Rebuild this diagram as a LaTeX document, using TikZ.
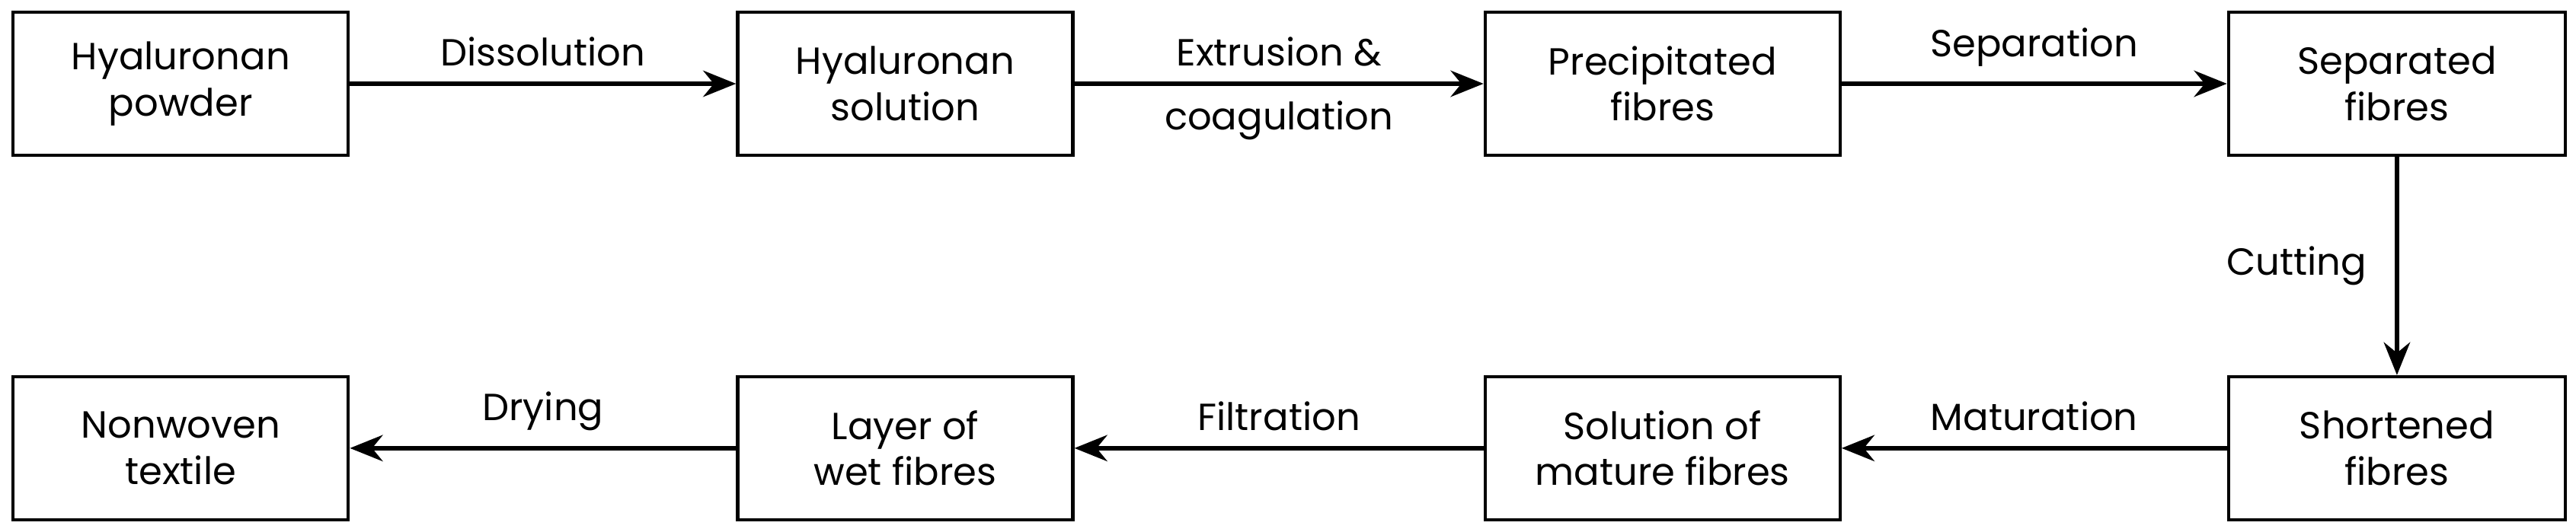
\documentclass[tikz,border=0pt]{standalone}
\usepackage{fontspec}
\setmainfont{Poppins}
\usetikzlibrary{arrows.meta}
\begin{document}
\begin{tikzpicture}[x=1pt,y=-1pt,
 box/.style={draw,line width=2pt,minimum width=204pt,minimum height=87pt,align=center,font=\fontsize{23}{28}\selectfont,inner sep=0pt},
 arr/.style={line width=2.5pt,-{Stealth[length=20pt,width=16pt]}},
 lab/.style={font=\fontsize{23}{28}\selectfont}]
\useasboundingbox (0,0) rectangle (1568,324);
\node[box] (a) at (110,51) {Hyaluronan\\powder};
\node[box] (b) at (551,51) {Hyaluronan\\solution};
\node[box,minimum width=216pt] (c) at (1012,51) {Precipitated\\fibres};
\node[box,minimum width=205pt] (d) at (1459,51) {Separated\\fibres};
\node[box,minimum width=205pt] (e) at (1459,273) {Shortened\\fibres};
\node[box,minimum width=216pt] (f) at (1012,273) {Solution of\\mature fibres};
\node[box] (g) at (551,273) {Layer of\\wet fibres};
\node[box] (h) at (110,273) {Nonwoven\\textile};
\draw[arr] (a) -- node[lab,above=6pt]{Dissolution} (b);
\draw[arr] (b) -- node[lab,above=6pt]{Extrusion \&} node[lab,below=6pt]{coagulation} (c);
\draw[arr] (c) -- node[lab,above=6pt]{Separation} (d);
\draw[arr] (d) -- node[lab,left=14pt]{Cutting} (e);
\draw[arr] (e) -- node[lab,above=6pt]{Maturation} (f);
\draw[arr] (f) -- node[lab,above=6pt]{Filtration} (g);
\draw[arr] (g) -- node[lab,above=6pt]{Drying} (h);
\end{tikzpicture}
\end{document}
